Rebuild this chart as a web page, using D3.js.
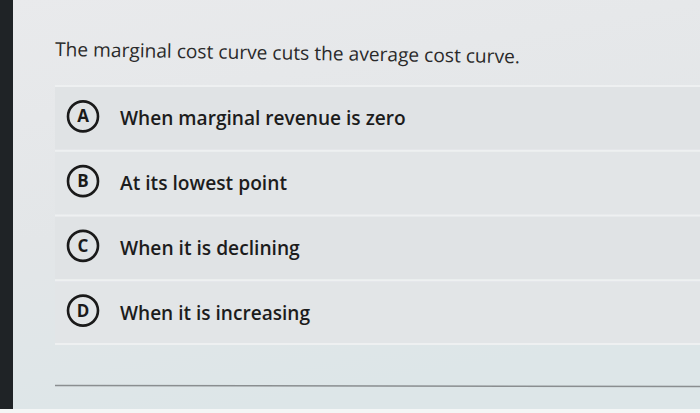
<!DOCTYPE html>
<html><head><meta charset="utf-8">
<script src="https://cdn.jsdelivr.net/npm/d3@7/dist/d3.min.js"></script>
<style>html,body{margin:0;padding:0;background:#e4e6e8;overflow:hidden}</style>
</head><body>
<svg id="c" width="700" height="413"></svg>
<script>
const question = "The marginal cost curve cuts the average cost curve.";
const letters = ["A", "B", "C", "D"];
const options = ["When marginal revenue is zero", "At its lowest point", "When it is declining", "When it is increasing"];
const optionWidths = [286, 167, 180, 190];

const W = 700, H = 413;
const svg = d3.select("#c");
const defs = svg.append("defs");
const g1 = defs.append("linearGradient").attr("id", "bg").attr("x1", 0).attr("y1", 0).attr("x2", 0.3).attr("y2", 1);
g1.append("stop").attr("offset", "0%").attr("stop-color", "#e9eaec");
g1.append("stop").attr("offset", "55%").attr("stop-color", "#e3e6e8");
g1.append("stop").attr("offset", "100%").attr("stop-color", "#dde6e8");

svg.append("rect").attr("width", W).attr("height", H).attr("fill", "url(#bg)");
// bezel
svg.append("rect").attr("x", 0).attr("y", 0).attr("width", 13).attr("height", H).attr("fill", "#1f2326");
svg.append("rect").attr("x", 0).attr("y", 409).attr("width", W).attr("height", 4).attr("fill", "#f4f6f6");

const y = d3.scaleBand().domain(letters).range([87, 344]).paddingInner(0.03);

const rows = svg.append("g");
rows.selectAll("rect.row").data(letters).join("rect")
  .attr("class", "row")
  .attr("x", 55).attr("y", d => y(d)).attr("width", W - 55).attr("height", y.bandwidth())
  .attr("fill", (d, i) => i % 2 ? "#e2e5e7" : "#e0e3e5");
rows.selectAll("line.sep").data(letters.concat(["end"])).join("line")
  .attr("class", "sep")
  .attr("x1", 55).attr("x2", W)
  .attr("y1", (d, i) => i < letters.length ? y(d) - 1 : 344)
  .attr("y2", (d, i) => i < letters.length ? y(d) - 1 : 344)
  .attr("stroke", "#eef0f1").attr("stroke-width", 2);

function fitText(sel, target) {
  sel.each(function() {
    const n = this.getComputedTextLength();
    const fs = parseFloat(this.getAttribute("font-size"));
    this.setAttribute("font-size", (fs * target / n).toFixed(2));
  });
}

const q = svg.append("text").attr("x", 55).attr("y", 56)
  .attr("font-family", "Open Sans").attr("font-size", 17).attr("fill", "#2a2a2a")
  .attr("transform", "rotate(0.9 55 56)")
  .text(question);
fitText(q, 465);

const opt = svg.selectAll("g.opt").data(letters).join("g").attr("class", "opt")
  .attr("transform", d => `translate(0,${y(d) + y.bandwidth() / 2})`);
opt.append("circle").attr("cx", 83).attr("cy", -2).attr("r", 15)
  .attr("fill", "none").attr("stroke", "#1a1a1a").attr("stroke-width", 2.6);
opt.append("text").attr("x", 83).attr("y", 4)
  .attr("text-anchor", "middle").attr("font-family", "Open Sans").attr("font-weight", 700)
  .attr("font-size", 17).attr("fill", "#1a1a1a").text(d => d);
const ot = opt.append("text").attr("x", 120).attr("y", 7)
  .attr("font-family", "Open Sans").attr("font-weight", 600)
  .attr("font-size", 17).attr("fill", "#1c1c1c").text((d, i) => options[i]);
ot.each(function(d, i) { fitText(d3.select(this), optionWidths[i]); });

svg.append("line").attr("x1", 55).attr("x2", W).attr("y1", 385.5).attr("y2", 386.5)
  .attr("stroke", "#8a8e90").attr("stroke-width", 1.5);
</script>
</body></html>
